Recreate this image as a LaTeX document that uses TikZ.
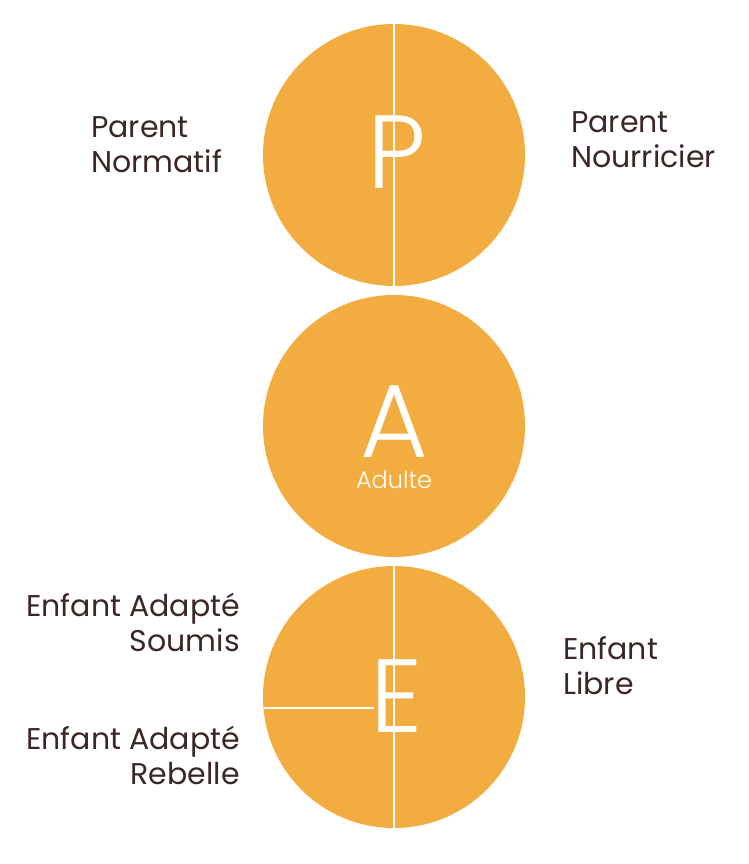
\documentclass[tikz,border=0pt]{standalone}
\usepackage{fontspec}
\setmainfont{Poppins}
\newfontfamily\letterfont{Poppins}[UprightFont=* Light]
\definecolor{disccol}{HTML}{F2AC3F}
\definecolor{labelcol}{HTML}{3A2826}
\begin{document}
\begin{tikzpicture}[x=1pt,y=-1pt,
  disc/.style={circle,fill=disccol,draw=none,minimum size=262pt,inner sep=0pt},
  divider/.style={draw=white,line width=2.5pt},
  bigletter/.style={text=white,inner sep=0pt,text depth=0pt,font=\letterfont\fontsize{104}{104}\selectfont},
  smallword/.style={text=white,inner sep=0pt,font=\letterfont\fontsize{24}{28}\selectfont},
  lbl/.style={text=labelcol,inner sep=0pt,font=\fontsize{30}{35}\selectfont}]
\useasboundingbox (0,0) rectangle (748,864);
% discs
\node[disc] (P) at (394,155) {};
\node[disc] (A) at (394,426) {};
\node[disc] (E) at (394,697) {};
% dividing lines
\draw[divider] (P.north) -- (P.south);
\draw[divider] (E.north) -- (E.south);
\coordinate (hl) at (263.5,708);
\coordinate (hr) at (374,708);
\draw[divider] (hl) -- (hr);
% letters
\node[bigletter,anchor=base] (Pl) at (397,188) {P};
\node[bigletter,anchor=base] (Al) at (394,457) {A};
\node[bigletter,anchor=base] (El) at (397,732) {E};
\node[smallword,anchor=base] (Aw) at (394,488) {Adulte};
% labels
\node[lbl,align=left,anchor=north west] (pn) at (91,116) {Parent\\Normatif};
\node[lbl,align=left,anchor=north west] (pnr) at (571,111) {Parent\\Nourricier};
\node[lbl,align=right,anchor=north east] (eas) at (240,593) {Enfant Adapté\\Soumis};
\node[lbl,align=right,anchor=north east] (ear) at (240,726) {Enfant Adapté\\Rebelle};
\node[lbl,align=left,anchor=north west] (el) at (563,636) {Enfant\\Libre};
\end{tikzpicture}
\end{document}
